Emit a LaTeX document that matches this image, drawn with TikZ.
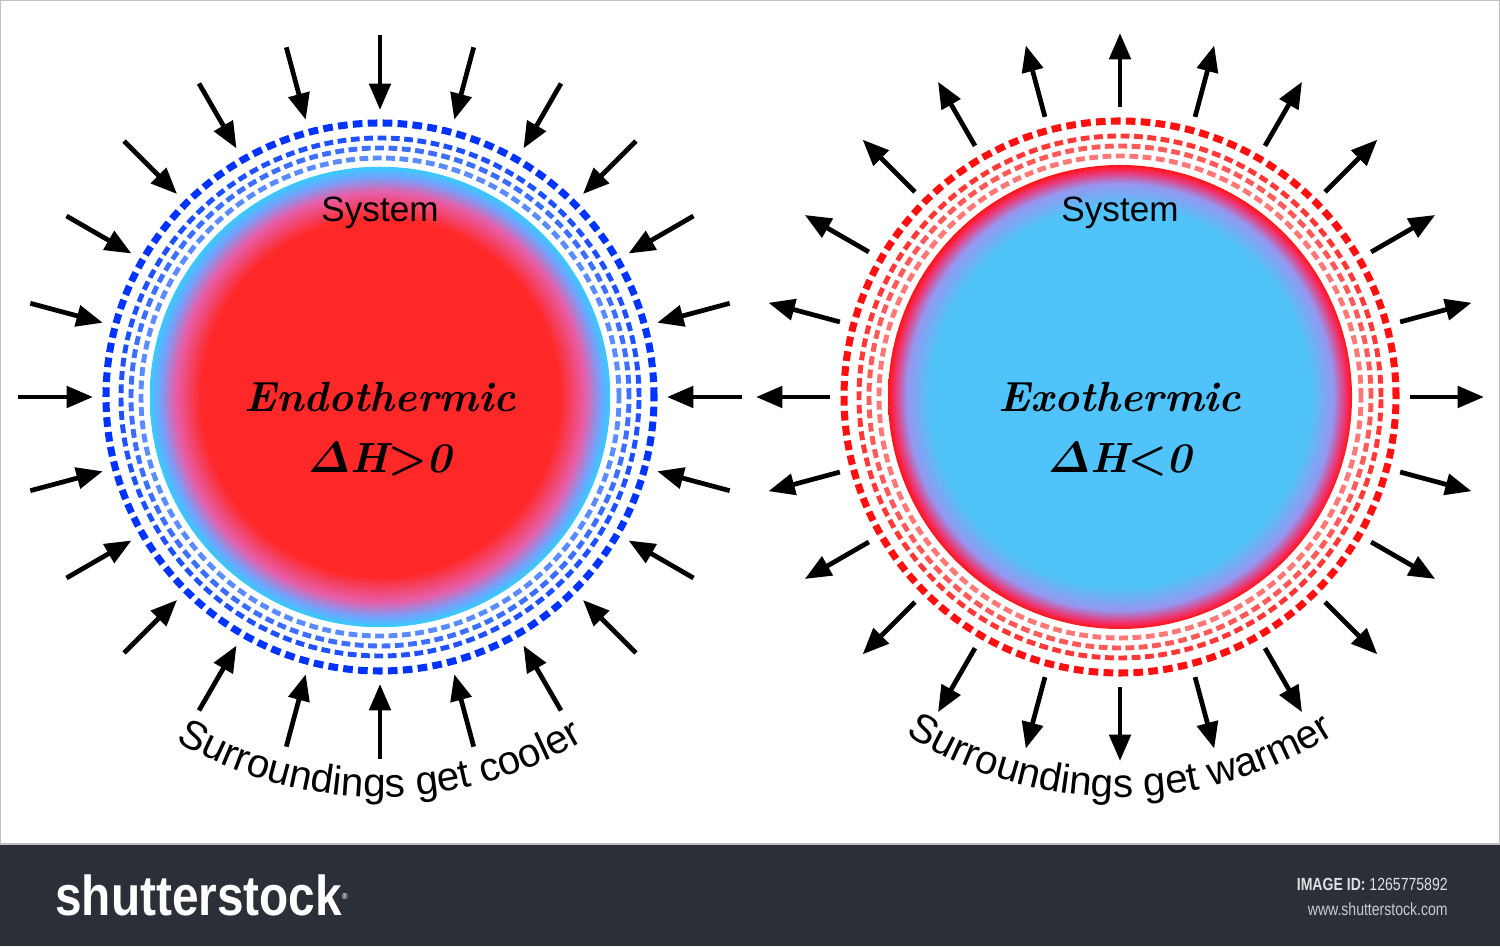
\documentclass[tikz,border=0pt]{standalone}
\usepackage{fontspec}
\setsansfont{Liberation Sans}
\usepackage{amsmath}
\usepackage{bm}
\usetikzlibrary{arrows.meta, calc, decorations.text}

\definecolor{hotred}{RGB}{255,40,40}
\definecolor{hotpink}{RGB}{230,95,170}
\definecolor{paleblue}{RGB}{110,165,255}
\definecolor{rimcyan}{RGB}{60,200,255}
\definecolor{coolblue}{RGB}{80,196,250}
\definecolor{lavender}{RGB}{150,150,240}
\definecolor{rosered}{RGB}{240,50,110}
\definecolor{edgered}{RGB}{255,20,20}
\definecolor{ringblueA}{RGB}{0,51,255}
\definecolor{ringblueB}{RGB}{30,80,255}
\definecolor{ringblueC}{RGB}{60,110,255}
\definecolor{ringblueD}{RGB}{90,140,255}
\definecolor{ringredA}{RGB}{255,15,15}
\definecolor{ringredB}{RGB}{255,55,55}
\definecolor{ringredC}{RGB}{255,90,90}
\definecolor{ringredD}{RGB}{255,120,120}
\definecolor{footerbg}{RGB}{42,47,56}

\pgfdeclareradialshading{endoshade}{\pgfpoint{0bp}{0bp}}{%
  color(0bp)=(hotred); color(19.5bp)=(hotred); color(22.3bp)=(hotpink);
  color(24bp)=(paleblue); color(25bp)=(rimcyan); color(50bp)=(rimcyan)}
\pgfdeclareradialshading{exoshade}{\pgfpoint{0bp}{0bp}}{%
  color(0bp)=(coolblue); color(20.5bp)=(coolblue); color(23bp)=(lavender);
  color(24.3bp)=(rosered); color(25bp)=(edgered); color(50bp)=(edgered)}

\tikzset{
  ringout/.style={line width=4pt, dash pattern=on 5.5pt off 3pt},
  ringin/.style={line width=2.8pt, dash pattern=on 5pt off 2.6pt},
  heatarrow/.style={-{Triangle[length=15pt,width=12pt]}, line width=2.7pt},
  bigtitle/.style={font=\bfseries\itshape\fontsize{24}{29}\selectfont},
}

\begin{document}
\begin{tikzpicture}[x=0.02cm, y=0.02cm]
    \useasboundingbox (0,0) rectangle (1500,946);
    \fill[white] (0,0) rectangle (1500,946);
    \draw[gray!50, line width=0.8pt] (0.5,102) rectangle (1499.5,945.5);

    % Endothermic case
    \begin{scope}[shift={(380,549)}]
        \shade[shading=endoshade] (0,0) circle[radius=230];
        \draw[rimcyan, line width=1.4pt] (0,0) circle[radius=229];
        \draw[ringout, ringblueA] (0,0) circle[radius=274];
        \draw[ringin, ringblueB] (0,0) circle[radius=259];
        \draw[ringin, ringblueC] (0,0) circle[radius=249];
        \draw[ringin, ringblueD] (0,0) circle[radius=239];
        \foreach \a in {0,15,...,345}
            \draw[heatarrow] (\a:362) -- (\a:287);
        \node[font=\sffamily\fontsize{20}{24}\selectfont] (endosys) at (0,184) {System};
        \node[bigtitle] (endoname) at (0,0) {Endothermic};
        \node[bigtitle] (endodh) at (0,-62) {$\bm{\varDelta}$H$\bm{{>}}$0};
        \path[decorate, decoration={text along path, text align=center,
            text={|\sffamily\fontsize{23}{23}\selectfont|Surroundings get cooler}}]
            (200:400) arc[start angle=200, end angle=340, radius=400];
    \end{scope}

    % Exothermic case
    \begin{scope}[shift={(1120,549)}]
        \shade[shading=exoshade] (0,0) circle[radius=232];
        \draw[ringout, ringredA] (0,0) circle[radius=276];
        \draw[ringin, ringredB] (0,0) circle[radius=261];
        \draw[ringin, ringredC] (0,0) circle[radius=251];
        \draw[ringin, ringredD] (0,0) circle[radius=241];
        \foreach \a in {0,15,...,345}
            \draw[heatarrow] (\a:290) -- (\a:364);
        \node[font=\sffamily\fontsize{20}{24}\selectfont] (exosys) at (0,184) {System};
        \node[bigtitle] (exoname) at (0,0) {Exothermic};
        \node[bigtitle] (exodh) at (0,-62) {$\bm{\varDelta}$H$\bm{{<}}$0};
        \path[decorate, decoration={text along path, text align=center,
            text={|\sffamily\fontsize{23}{23}\selectfont|Surroundings get warmer}}]
            (200:400) arc[start angle=200, end angle=340, radius=400];
    \end{scope}

    % Footer bar
    \fill[footerbg] (0,0) rectangle (1500,101);
    \node[anchor=base west, white, font=\sffamily\bfseries\fontsize{32}{34}\selectfont,
        inner sep=0pt] (logo) at (55,31) {\scalebox{0.85}[1]{shutterstock\textsuperscript{\tiny ®}}};
    \node[anchor=east, white!85!footerbg, font=\sffamily\fontsize{10}{12}\selectfont,
        inner sep=0pt] (imageid) at (1448,62) {\scalebox{0.8}[1]{\textbf{IMAGE ID:} 1265775892}};
    \node[anchor=east, white!75!footerbg, font=\sffamily\fontsize{10}{12}\selectfont,
        inner sep=0pt] (siteurl) at (1448,37) {\scalebox{0.8}[1]{www.shutterstock.com}};
\end{tikzpicture}
\end{document}
